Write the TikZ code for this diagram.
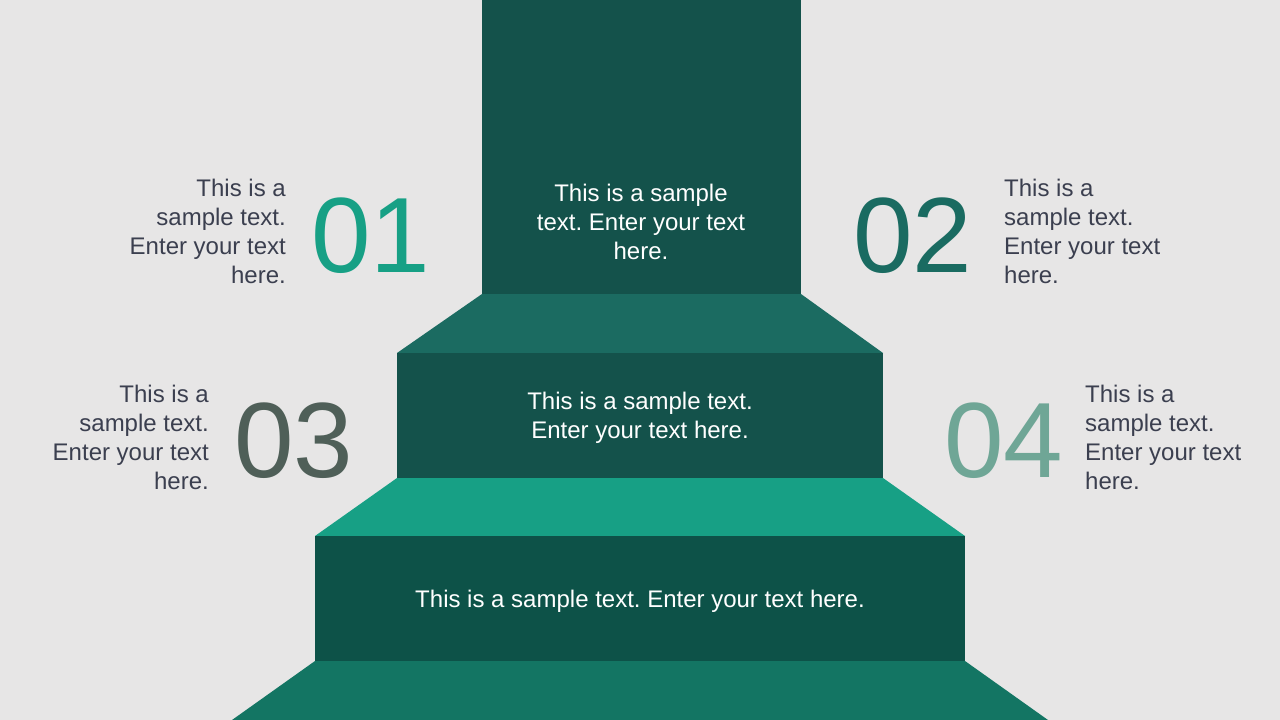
\documentclass[tikz,border=0pt]{standalone}
\usepackage{fontspec}
\setmainfont{Liberation Sans}
\frenchspacing
\definecolor{bg}{HTML}{E7E6E6}
\definecolor{riser}{HTML}{14524B}
\definecolor{riserb}{HTML}{0D5248}
\definecolor{treadA}{HTML}{1B6B61}
\definecolor{treadB}{HTML}{17A085}
\definecolor{treadC}{HTML}{137563}
\definecolor{sidetxt}{HTML}{3B3F4F}
\definecolor{numA}{HTML}{17A085}
\definecolor{numB}{HTML}{1A6B61}
\definecolor{numC}{HTML}{4F5F58}
\definecolor{numD}{HTML}{6FA696}
\tikzset{
  sidetext/.style={inner sep=0pt, text=sidetxt, font=\fontsize{24}{29}\selectfont},
  lefttext/.style={sidetext, align=right, anchor=north east},
  righttext/.style={sidetext, align=left, anchor=north west},
  midtext/.style={inner sep=0pt, text=white, align=center, anchor=north, font=\fontsize{24}{29}\selectfont},
  bignum/.style={inner sep=0pt, anchor=base west, font=\fontsize{107}{107}\selectfont}
}
\begin{document}
\frenchspacing
\begin{tikzpicture}[x=1pt,y=-1pt]
\fill[bg] (0,0) rectangle (1280,720);
\useasboundingbox (0,0) rectangle (1280,720);
% column and steps
\fill[riser] (482,0) rectangle (801,294);
\fill[treadA] (482,294) -- (801,294) -- (883,353) -- (397,353) -- cycle;
\fill[riser] (397,353) rectangle (883,478);
\fill[treadB] (397,478) -- (883,478) -- (965,536) -- (315,536) -- cycle;
\fill[riserb] (315,536) rectangle (965,661);
\fill[treadC] (315,661) -- (965,661) -- (1048,720) -- (232,720) -- cycle;
% center texts
\node[midtext] (m1) at (641,184) {This is a sample\\text. Enter your text\\here.};
\node[midtext] (m2) at (640,392) {This is a sample text.\\Enter your text here.};
\node[midtext] (m3) at (640,590) {This is a sample text. Enter your text here.};
% numbers
\node[bignum, text=numA] (n1) at (311,272) {01};
\node[bignum, text=numB] (n2) at (853,272) {02};
\node[bignum, text=numC] (n3) at (234,477) {03};
\node[bignum, text=numD] (n4) at (944,477) {04};
% side texts
\node[lefttext] (t1) at (286,179) {This is a\\sample text.\\Enter your text\\here.};
\node[righttext] (t2) at (1004,179) {This is a\\sample text.\\Enter your text\\here.};
\node[lefttext] (t3) at (209,385) {This is a\\sample text.\\Enter your text\\here.};
\node[righttext] (t4) at (1085,385) {This is a\\sample text.\\Enter your text\\here.};
\end{tikzpicture}
\end{document}
